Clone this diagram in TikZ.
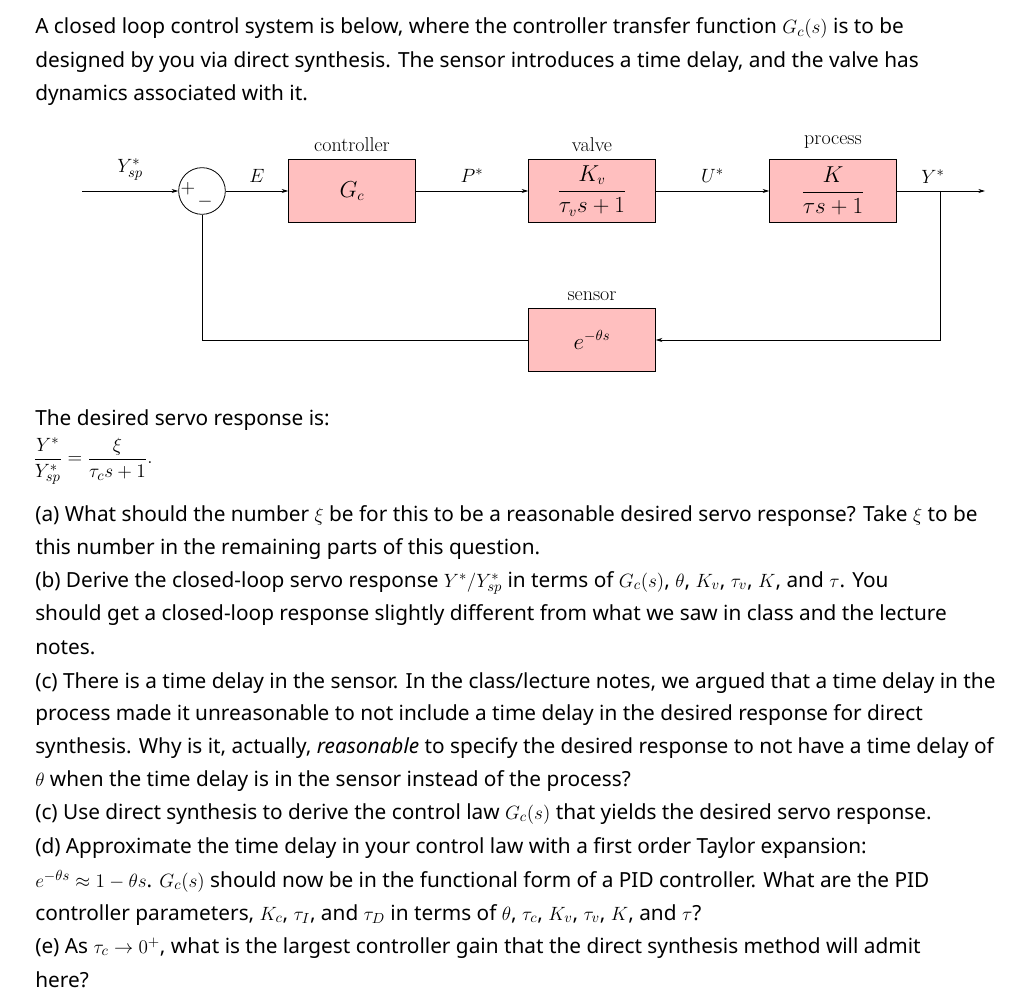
\documentclass[tikz,border=0pt]{standalone}
\usepackage{amsmath}
\usepackage{fontspec}
\setmainfont{Noto Sans}
\newfontfamily\lmr{Latin Modern Roman}
\usetikzlibrary{arrows.meta}
\begin{document}
\begin{tikzpicture}[x=0.75pt,y=-0.75pt,
  tl/.style={anchor=base west,inner sep=0,font=\fontsize{15.6}{18}\selectfont},
  blk/.style={draw,fill=red!25,minimum width=95.25pt,minimum height=47pt,inner sep=0,font=\fontsize{16}{19}\selectfont},
  lab/.style={font=\fontsize{15}{18}\selectfont,inner sep=0},
  sig/.style={-{Stealth[length=5pt,width=3pt]},line width=0.6pt},
  ln/.style={line width=0.6pt}]
\useasboundingbox[fill=white] (0,0) rectangle (1024,994);
\node[tl] (t1) at (35,34) {A closed loop control system is below, where the controller transfer function $G_c(s)$ is to be};
\node[tl] (t2) at (35,68) {designed by you via direct synthesis. The sensor introduces a time delay, and the valve has};
\node[tl] (t3) at (35,101) {dynamics associated with it.};
% diagram
\coordinate (in) at (82,191);
\node[draw,circle,minimum size=35pt,inner sep=0,line width=0.6pt] (sum) at (202,191) {};
\node[lab] at (188,189) {$+$};
\node[lab] at (205,202) {$-$};
\node[blk] (gc) at (352,191) {$G_c$};
\node[blk] (gv) at (592,191) {$\dfrac{K_v}{\tau_v s+1}$};
\node[blk] (gp) at (833,191) {$\dfrac{K}{\tau s+1}$};
\node[blk] (gs) at (592,340) {$e^{-\theta s}$};
\node[lab] at (352,145) {\lmr controller};
\node[lab] at (592,145) {\lmr valve};
\node[lab] at (833,142) {\lmr process};
\node[lab] at (592,296) {\lmr sensor};
\coordinate (out) at (985,191);
\coordinate (tap) at (940,191);
\draw[sig] (in) -- node[lab,above=8pt] {$Y^*_{sp}$} (sum);
\draw[sig] (sum) -- node[lab,above=6pt] {$E$} (gc);
\draw[sig] (gc) -- node[lab,above=6pt] {$P^*$} (gv);
\draw[sig] (gv) -- node[lab,above=6pt] {$U^*$} (gp);
\draw[sig] (gp) -- (out);
\node[lab] at (933,177) {$Y^*$};
\draw[sig] (tap) |- (gs.east);
\draw[ln] (gs.west) -| (sum.south);
% text
\node[tl] (t4) at (35,426) {The desired servo response is:};
\node[anchor=west,inner sep=0,font=\fontsize{15.6}{18}\selectfont] (eq) at (33,461) {$\dfrac{Y^*}{Y^*_{sp}}=\dfrac{\xi}{\tau_c s+1}.$};
\node[tl] at (35,521) {(a) What should the number $\xi$ be for this to be a reasonable desired servo response? Take $\xi$ to be};
\node[tl] at (35,554) {this number in the remaining parts of this question.};
\node[tl] at (35,587) {(b) Derive the closed-loop servo response $Y^*/Y^*_{sp}$ in terms of $G_c(s)$, $\theta$, $K_v$, $\tau_v$, $K$, and $\tau$. You};
\node[tl] at (35,620) {should get a closed-loop response slightly different from what we saw in class and the lecture};
\node[tl] at (35,654) {notes.};
\node[tl] at (35,688) {(c) There is a time delay in the sensor. In the class/lecture notes, we argued that a time delay in the};
\node[tl] at (35,720) {process made it unreasonable to not include a time delay in the desired response for direct};
\node[tl] at (35,753) {synthesis. Why is it, actually, \emph{reasonable} to specify the desired response to not have a time delay of};
\node[tl] at (35,786) {$\theta$ when the time delay is in the sensor instead of the process?};
\node[tl] at (35,819) {(c) Use direct synthesis to derive the control law $G_c(s)$ that yields the desired servo response.};
\node[tl] at (35,853) {(d) Approximate the time delay in your control law with a first order Taylor expansion:};
\node[tl] at (35,887) {$e^{-\theta s}\approx 1-\theta s$. $G_c(s)$ should now be in the functional form of a PID controller. What are the PID};
\node[tl] at (35,920) {controller parameters, $K_c$, $\tau_I$, and $\tau_D$ in terms of $\theta$, $\tau_c$, $K_v$, $\tau_v$, $K$, and $\tau$?};
\node[tl] at (35,953) {(e) As $\tau_c\to 0^+$, what is the largest controller gain that the direct synthesis method will admit};
\node[tl] at (35,987) {here?};
\end{tikzpicture}
\end{document}
